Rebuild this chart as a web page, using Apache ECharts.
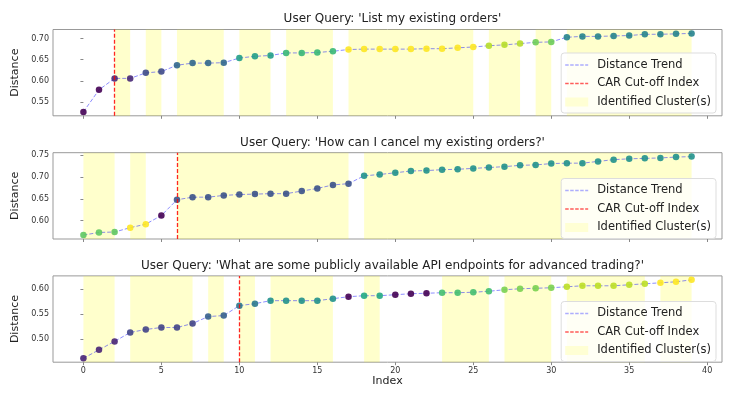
<!DOCTYPE html>
<html>
<head>
<meta charset="utf-8">
<script src="https://cdn.jsdelivr.net/npm/echarts@6/dist/echarts.min.js"></script>
<style>
html, body { margin: 0; padding: 0; background: #fff; }
#main { width: 735px; height: 405px; }
</style>
</head>
<body>
<div id="main"></div>
<script>
// 三个查询的距离曲线
var queries = [
    "User Query: 'List my existing orders'",
    "User Query: 'How can I cancel my existing orders?'",
    "User Query: 'What are some publicly available API endpoints for advanced trading?'"
];

var distQ1 = [0.527, 0.579, 0.606, 0.606, 0.619, 0.622, 0.637, 0.642, 0.642, 0.643,
              0.654, 0.658, 0.660, 0.666, 0.666, 0.667, 0.670, 0.674, 0.675, 0.675,
              0.675, 0.675, 0.676, 0.676, 0.678, 0.680, 0.683, 0.685, 0.688, 0.691,
              0.692, 0.703, 0.705, 0.705, 0.706, 0.707, 0.710, 0.710, 0.711, 0.712];
var distQ2 = [0.567, 0.573, 0.574, 0.584, 0.592, 0.612, 0.648, 0.654, 0.654, 0.658,
              0.660, 0.661, 0.662, 0.662, 0.668, 0.674, 0.682, 0.685, 0.703, 0.706,
              0.710, 0.714, 0.715, 0.717, 0.718, 0.720, 0.722, 0.724, 0.727, 0.728,
              0.731, 0.732, 0.732, 0.736, 0.740, 0.742, 0.743, 0.744, 0.746, 0.747];
var distQ3 = [0.461, 0.478, 0.495, 0.513, 0.519, 0.523, 0.523, 0.531, 0.545, 0.547,
              0.567, 0.571, 0.577, 0.577, 0.577, 0.577, 0.581, 0.585, 0.587, 0.587,
              0.589, 0.591, 0.592, 0.593, 0.593, 0.594, 0.596, 0.599, 0.601, 0.602,
              0.603, 0.605, 0.607, 0.607, 0.607, 0.609, 0.611, 0.613, 0.615, 0.619];

// 聚类标签 (-1 = 噪声)
var labelsQ1 = [-1, -1, 0, 0, 1, 1, 2, 2, 2, 2, 4, 4, 4, 5, 5, 5, 5, 8, 8, 8,
                8, 8, 8, 8, 8, 8, 7, 7, 7, 6, 6, 3, 3, 3, 3, 3, 3, 3, 3, 3];
var labelsQ2 = [2, 2, 2, 3, 3, -1, 0, 0, 0, 0, 0, 0, 0, 0, 0, 0, 0, 0, 1, 1,
                1, 1, 1, 1, 1, 1, 1, 1, 1, 1, 1, 1, 1, 1, 1, 1, 1, 1, 1, 1];
var labelsQ3 = [0, 0, 0, 1, 1, 1, 1, 1, 2, 2, 3, 3, 4, 4, 4, 4, 4, -1, 5, 5,
                -1, -1, -1, 6, 6, 6, 6, 7, 7, 7, 7, 8, 8, 8, 8, 8, 8, 9, 9, 9];

var cutoffs = [2, 6, 10];

var yTicksQ1 = [0.55, 0.60, 0.65, 0.70];
var yTicksQ2 = [0.60, 0.65, 0.70, 0.75];
var yTicksQ3 = [0.50, 0.55, 0.60];
var xTicks = [0, 5, 10, 15, 20, 25, 30, 35, 40];

var dists = [distQ1, distQ2, distQ3];
var labels = [labelsQ1, labelsQ2, labelsQ3];
var yTicks = [yTicksQ1, yTicksQ2, yTicksQ3];

// viridis
var viridis = ['#440154', '#482475', '#414487', '#355f8d', '#2a788e', '#21918c',
               '#22a884', '#44bf70', '#7ad151', '#bddf26', '#fde725'];
function hexRgb(h) {
    return [parseInt(h.substr(1, 2), 16), parseInt(h.substr(3, 2), 16), parseInt(h.substr(5, 2), 16)];
}
function viridisColor(t) {
    var p = t * 10, i = Math.min(Math.floor(p), 9), f = p - i;
    var a = hexRgb(viridis[i]), b = hexRgb(viridis[i + 1]);
    var c = a.map(function (v, k) { return Math.round(v + (b[k] - v) * f); });
    return 'rgb(' + c.join(',') + ')';
}

var FONT = 'DejaVu Sans';
var DASH_ICON = 'path://M0,0h3.5v1.4h-3.5z M5,0h3.5v1.4h-3.5z M10,0h3.5v1.4h-3.5z M15,0h3.5v1.4h-3.5z M20,0h3v1.4h-3z';
var gridTops = [29.5, 152.7, 275.9];
var legendTops = [53, 178.5, 301.5];
var titleTops = [8, 131.5, 255];

var option = {
    animation: false,
    title: [],
    legend: [],
    grid: [],
    xAxis: [],
    yAxis: [],
    series: []
};

for (var p = 0; p < 3; p++) {
    var d = dists[p], lab = labels[p];
    var lo = Math.min.apply(null, d), hi = Math.max.apply(null, d), pad = (hi - lo) * 0.05;
    var minL = Math.min.apply(null, lab), maxL = Math.max.apply(null, lab);
    var nTrend = 'Distance Trend#' + p, nCut = 'CAR Cut-off Index#' + p, nClu = 'Identified Cluster(s)#' + p;

    // 聚类区间
    var spans = {};
    lab.forEach(function (l, i) {
        if (l < 0) return;
        if (!spans[l]) spans[l] = [i, i];
        spans[l][1] = i;
    });
    var areaData = Object.keys(spans).map(function (k) {
        return [{ xAxis: spans[k][0] }, { xAxis: spans[k][1] }];
    });

    option.title.push({
        text: queries[p],
        left: 387.5,
        top: titleTops[p],
        textAlign: 'center',
        textStyle: { fontFamily: FONT, fontSize: 12, fontWeight: 'normal', color: '#222' }
    });
    option.legend.push({
        orient: 'vertical',
        right: 19,
        top: legendTops[p],
        data: [
            { name: nTrend, icon: DASH_ICON },
            { name: nCut, icon: DASH_ICON },
            { name: nClu, icon: 'rect' }
        ],
        formatter: function (name) { return '{t|' + name.split('#')[0] + '}'; },
        itemWidth: 23,
        itemHeight: 9,
        itemGap: 6.5,
        padding: [6, 5, 5, 4],
        backgroundColor: 'rgba(255,255,255,0.8)',
        borderColor: '#ddd',
        borderWidth: 1,
        borderRadius: 3,
        selectedMode: false,
        textStyle: {
            fontFamily: FONT, fontSize: 11.5, color: '#222',
            rich: { t: { fontFamily: FONT, fontSize: 11.5, color: '#222', padding: [0, 0, 0, 4] } }
        }
    });
    option.grid.push({
        left: 53, right: 13, top: gridTops[p], height: 86.3,
        show: true, borderColor: '#999', borderWidth: 1, backgroundColor: 'transparent'
    });
    option.xAxis.push({
        type: 'value', gridIndex: p, min: -1.95, max: 40.95,
        axisLine: { show: false },
        axisTick: { show: true, length: 3, customValues: xTicks, lineStyle: { color: '#888' } },
        axisLabel: { show: p === 2, customValues: xTicks, fontFamily: FONT, fontSize: 8, color: '#333', margin: 5 },
        splitLine: { show: false },
        name: p === 2 ? 'Index' : '',
        nameLocation: 'middle',
        nameGap: 13,
        nameTextStyle: { fontFamily: FONT, fontSize: 11, color: '#222' }
    });
    option.yAxis.push({
        type: 'value', gridIndex: p, min: lo - pad, max: hi + pad,
        axisLine: { show: false },
        axisTick: { show: true, length: 3, customValues: yTicks[p], lineStyle: { color: '#888' } },
        axisLabel: {
            customValues: yTicks[p], fontFamily: FONT, fontSize: 8, color: '#333', margin: 4,
            formatter: function (v) { return v.toFixed(2); }
        },
        splitLine: { show: false },
        name: 'Distance',
        nameLocation: 'middle',
        nameGap: 24,
        nameRotate: 90,
        nameTextStyle: { fontFamily: FONT, fontSize: 11, color: '#222' }
    });

    // 图例项 + 聚类区域
    option.series.push({
        name: nClu,
        type: 'scatter',
        xAxisIndex: p, yAxisIndex: p,
        data: [],
        itemStyle: { color: '#ffffcc' },
        markArea: {
            silent: true,
            itemStyle: { color: 'rgba(255,255,0,0.2)' },
            data: areaData
        },
        z: 1
    });
    option.series.push({
        name: nTrend,
        type: 'scatter',
        xAxisIndex: p, yAxisIndex: p,
        data: [],
        itemStyle: { color: '#9999ff' }
    });
    option.series.push({
        name: 'trend' + p,
        type: 'line',
        xAxisIndex: p, yAxisIndex: p,
        data: d.map(function (v, i) { return [i, v]; }),
        symbol: 'none',
        lineStyle: { color: '#0000ff', opacity: 0.45, width: 1, type: [4, 2] },
        z: 2
    });
    option.series.push({
        name: nCut,
        type: 'scatter',
        xAxisIndex: p, yAxisIndex: p,
        data: [],
        itemStyle: { color: '#ff3333' },
        markLine: {
            silent: true,
            symbol: 'none',
            label: { show: false },
            lineStyle: { color: '#ff0000', width: 1.3, type: [4, 2], opacity: 0.85 },
            data: [{ xAxis: cutoffs[p] }]
        },
        z: 3
    });
    option.series.push({
        name: 'points' + p,
        type: 'scatter',
        xAxisIndex: p, yAxisIndex: p,
        symbolSize: 6.5,
        data: d.map(function (v, i) {
            return {
                value: [i, v],
                itemStyle: { color: viridisColor((lab[i] - minL) / (maxL - minL)), opacity: 0.9 }
            };
        }),
        z: 4
    });
}

var myChart = echarts.init(document.getElementById('main'));
myChart.setOption(option);
</script>
</body>
</html>
